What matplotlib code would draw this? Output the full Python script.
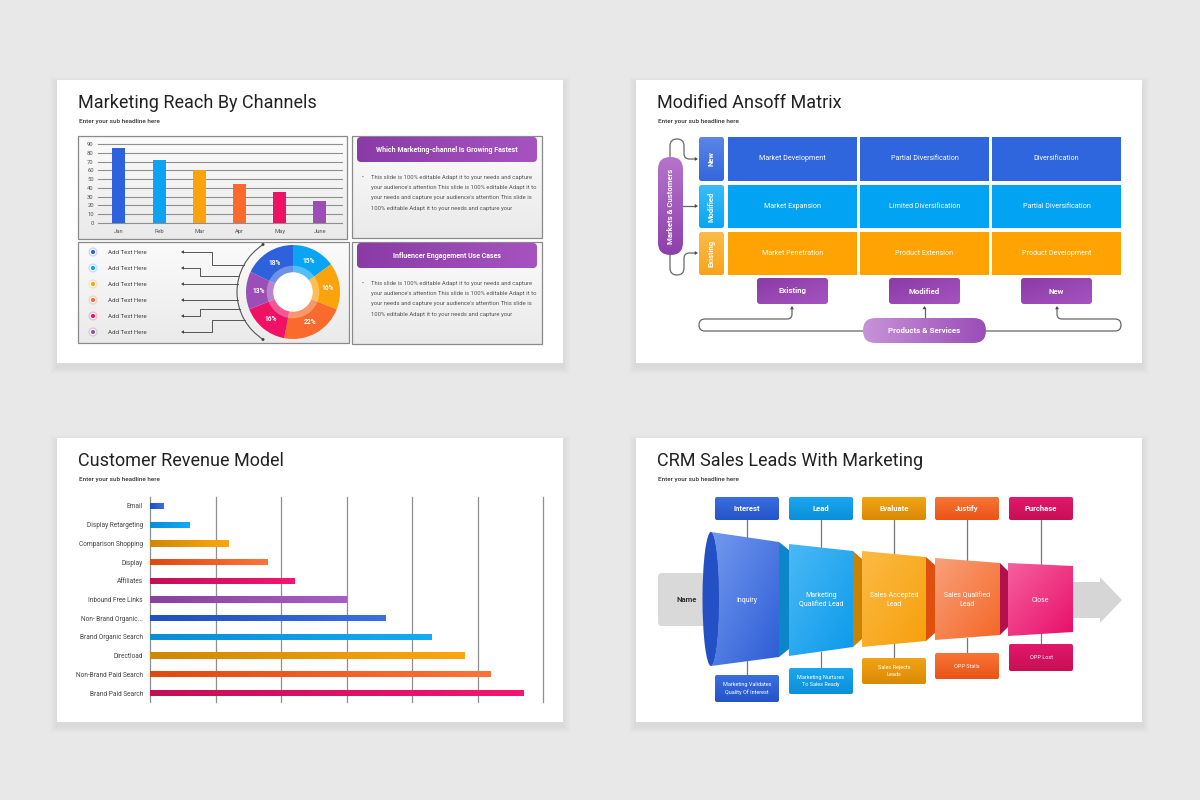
import numpy as np
import matplotlib
matplotlib.use('Agg')
import matplotlib.pyplot as plt
from matplotlib.patches import FancyBboxPatch, Polygon, Ellipse, Rectangle, Circle, Arc, PathPatch
from matplotlib.path import Path
from matplotlib.colors import to_rgb

plt.rcParams['font.family'] = ['Roboto', 'DejaVu Sans']

W, H = 1200, 800

# slide 1: marketing reach
months = ['Jan', 'Feb', 'Mar', 'Apr', 'May', 'June']
reach = [85, 72, 60, 44, 35, 25]
reach_colors = ['#2d62dc', '#0ca4f2', '#fba30d', '#f96a2c', '#ee1164', '#9b4fb6']
share = [15, 16, 22, 16, 13, 18]
share_colors = ['#0aa4f4', '#fba30d', '#f96a2c', '#ee1164', '#9b4fb6', '#2d62dc']
legend_labels = ['Add Text Here'] * 6
legend_colors = ['#2d62dc', '#0ca4f2', '#fba30d', '#f96a2c', '#ee1164', '#9b4fb6']
panel_heads = ['Which Marketing-channel Is Growing Fastest', 'Influencer Engagement Use Cases']
body = ["This slide is 100% editable Adapt it to your needs and capture",
        "your audience's attention This slide is 100% editable Adapt it to",
        "your needs and capture your audience's attention This slide is",
        "100% editable Adapt it to your needs and capture your"]

# slide 2: ansoff matrix
ansoff_rows = ['New', 'Modified', 'Existing']
ansoff_cols = ['Existing', 'Modified', 'New']
ansoff_cells = [['Market Development', 'Partial Diversification', 'Diversification'],
                ['Market Expansion', 'Limited Diversification', 'Partial Diversification'],
                ['Market Penetration', 'Product Extension', 'Product Development']]

# slide 3: revenue model
channels = ['Email', 'Display Retargeting', 'Comparison Shopping', 'Display', 'Affiliates',
            'Inbound Free Links', 'Non- Brand Organic...', 'Brand Organic Search', 'Directload',
            'Non-Brand Paid Search', 'Brand Paid Search']
revenue = [2, 6, 12, 18, 22, 30, 36, 43, 48, 52, 57]
rev_colors = [('#1f4fc0', '#3a6fe2'), ('#0a8ed6', '#14aaf6'), ('#cf8805', '#fca60f'),
              ('#df4a0e', '#fb7437'), ('#c20f58', '#f6156f'), ('#87429f', '#a660c3')]

# slide 4: crm funnel
stages = ['Interest', 'Lead', 'Evaluate', 'Justify', 'Purchase']
stage_steps = ['Inquiry', 'Marketing\nQualified Lead', 'Sales Accepted\nLead', 'Sales Qualified\nLead', 'Close']
stage_notes = ['Marketing Validates\nQuality Of Interest', 'Marketing Nurtures\nTo Sales Ready',
               'Sales Rejects\nLeads', 'OPP Stalls', 'OPP Lost']


def grad_img(c1, c2, mode='h', n=80):
    a = np.array(to_rgb(c1))
    b = np.array(to_rgb(c2))
    t = np.linspace(0, 1, n)
    if mode == 'h':
        tt = np.tile(t, (n, 1))
    elif mode == 'v':
        tt = np.tile(t[:, None], (1, n))
    else:
        tt = np.add.outer(t, t) / 2
    return a + (b - a) * tt[..., None]


def grad_box(x0, y0, x1, y1, c1, c2, mode='h', r=2, z=2):
    p = FancyBboxPatch((x0, y0), x1 - x0, y1 - y0, boxstyle=f'round,pad=0,rounding_size={r}',
                       fc='none', ec='none', zorder=z)
    ax.add_patch(p)
    im = ax.imshow(grad_img(c1, c2, mode), extent=(x0, x1, y1, y0), aspect='auto',
                   zorder=z, interpolation='bilinear')
    im.set_clip_path(p)
    return p


def grad_poly(pts, c1, c2, mode='d', z=2):
    p = Polygon(pts, closed=True, fc='none', ec='none', zorder=z)
    ax.add_patch(p)
    xs, ys = zip(*pts)
    im = ax.imshow(grad_img(c1, c2, mode), extent=(min(xs), max(xs), max(ys), min(ys)),
                   aspect='auto', zorder=z, interpolation='bilinear')
    im.set_clip_path(p)


def rounded_line(pts, r=6, c='#666666', lw=0.9):
    pts = np.array(pts, float)
    verts = [pts[0]]
    codes = [Path.MOVETO]
    for i in range(1, len(pts) - 1):
        p0, p1, p2 = pts[i - 1], pts[i], pts[i + 1]
        l1 = np.linalg.norm(p0 - p1)
        l2 = np.linalg.norm(p2 - p1)
        rr = min(r, l1 / 2, l2 / 2)
        verts += [p1 + (p0 - p1) / l1 * rr, p1, p1 + (p2 - p1) / l2 * rr]
        codes += [Path.LINETO, Path.CURVE3, Path.CURVE3]
    verts.append(pts[-1])
    codes.append(Path.LINETO)
    ax.add_patch(PathPatch(Path(verts, codes), fc='none', ec=c, lw=lw, zorder=5))


def head(x, y, d, s=3.2, c='#444444'):
    if d == 'l':
        pts = [(x, y), (x + s, y - s * 0.6), (x + s, y + s * 0.6)]
    elif d == 'r':
        pts = [(x, y), (x - s, y - s * 0.6), (x - s, y + s * 0.6)]
    else:
        pts = [(x, y), (x - s * 0.6, y + s), (x + s * 0.6, y + s)]
    ax.add_patch(Polygon(pts, closed=True, fc=c, ec='none', zorder=6))


def fig_box(x0, y0, x1, y1):
    return [x0 / W, 1 - y1 / H, (x1 - x0) / W, (y1 - y0) / H]


fig = plt.figure(figsize=(12, 8), dpi=100)
fig.patch.set_facecolor('#e9e8e9')
ax = fig.add_axes([0, 0, 1, 1])
ax.set_xlim(0, W)
ax.set_ylim(H, 0)
ax.set_autoscale_on(False)
ax.axis('off')

# slides with soft shadow
slides = [(57, 80, 563, 363), (636, 80, 1142, 363), (57, 438, 563, 722), (636, 438, 1142, 722)]
titles = ['Marketing Reach By Channels', 'Modified Ansoff Matrix', 'Customer Revenue Model',
          'CRM Sales Leads With Marketing']
for (x0, y0, x1, y1), t in zip(slides, titles):
    for i in range(1, 8):
        ax.add_patch(Rectangle((x0 - i, y0 - i + 4), x1 - x0 + 2 * i, y1 - y0 + 2 * i,
                               fc='black', alpha=0.007, ec='none', zorder=0))
    ax.add_patch(Rectangle((x0, y0), x1 - x0, y1 - y0, fc='white', ec='none', zorder=1))
    ax.text(x0 + 21, y0 + 22.5, t, fontsize=13, color='#222222', va='center', zorder=10)
    ax.text(x0 + 22, y0 + 41, 'Enter your sub headline here', fontsize=4.6, color='#333333',
            va='center', fontweight=500, zorder=10)


def panel(x0, y0, x1, y1):
    grad_box(x0, y0, x1, y1, '#fbfbfb', '#eaeaea', 'v', r=0.1, z=2)
    ax.add_patch(Rectangle((x0, y0), x1 - x0, y1 - y0, fc='none', ec='#8a8a8a', lw=0.9, zorder=3))


# ---- slide 1 ----
panel(78, 136, 347, 239)
panel(78, 242, 349, 343)
for py, htxt in zip([136, 242], panel_heads):
    panel(352, py, 542, py + 102)
    grad_box(357, py + 1, 537, py + 26, '#8a3ba6', '#a653c0', 'h', r=4, z=4)
    ax.text(447, py + 13.5, htxt, color='white', fontsize=5, fontweight='bold',
            ha='center', va='center', zorder=10)
    ax.text(362, py + 41, '\u2022', fontsize=4, color='#555555', va='center', zorder=10)
    for k, line in enumerate(body):
        ax.text(371, py + 41 + k * 10.5, line, fontsize=4.2, color='#555555', va='center', zorder=10)

axb = fig.add_axes(fig_box(98, 144, 342, 223))
axb.patch.set_alpha(0)
axb.bar(range(len(months)), reach, width=0.32, color=reach_colors, zorder=3)
axb.set_xlim(-0.52, 5.55)
axb.set_ylim(0, 90)
axb.set_yticks(range(0, 91, 10))
axb.set_xticks(range(len(months)), months)
axb.yaxis.grid(True, color='#8f8f8f', lw=0.8)
for gl in axb.get_ygridlines():
    gl.set_clip_on(False)
axb.tick_params(length=0, labelsize=4.2, labelcolor='#555555')
axb.tick_params(axis='y', pad=3)
axb.tick_params(axis='x', pad=4)
for s in axb.spines.values():
    s.set_visible(False)

# legend rows with arrows into the donut
rows_y = [252, 268, 284, 300, 316, 332]
cx, cy, ra = 293, 292, 56


def arc_x(y):
    return cx - np.sqrt(ra ** 2 - (y - cy) ** 2)


bends = [(212, 265), (200, 276), (None, 284), (None, 300), (200, 309), (212, 320)]
for y, lab, c, (bx, by) in zip(rows_y, legend_labels, legend_colors, bends):
    ax.add_patch(Circle((93, y), 4.6, fc=c, alpha=0.22, ec='none', zorder=4))
    ax.add_patch(Circle((93, y), 3.2, fc='white', ec='none', zorder=4))
    ax.add_patch(Circle((93, y), 2.1, fc=c, ec='none', zorder=4))
    ax.text(108, y, lab, fontsize=4.4, color='#444444', va='center', zorder=10)
    if bx is None:
        xs, ys = [183, arc_x(y)], [y, y]
    else:
        xs, ys = [183, bx, bx, arc_x(by)], [y, y, by, by]
    ax.plot(xs, ys, color='#555555', lw=0.7, zorder=5)
    head(181, y, 'l', s=3)
ax.add_patch(Arc((cx, cy), 2 * ra, 2 * ra, theta1=122, theta2=238, color='#555555', lw=0.8, zorder=5))
for dy in (-47.5, 47.5):
    ax.add_patch(Circle((cx - 30, cy + dy), 1.5, fc='#444444', ec='none', zorder=6))

axp = fig.add_axes(fig_box(246, 245, 340, 339))
axp.pie(share, colors=share_colors, startangle=90, counterclock=False, radius=1,
        autopct=lambda p: f'{p:.0f}%', pctdistance=0.74,
        textprops=dict(color='white', fontsize=4.8, fontweight='bold'),
        wedgeprops=dict(lw=0))
axp.add_patch(Circle((0, 0), 0.56, fc='white', alpha=0.3, ec='none'))
axp.add_patch(Circle((0, 0), 0.42, fc='white', ec='none'))
axp.set_xlim(-1, 1)
axp.set_ylim(-1, 1)
axp.axis('off')

# ---- slide 2 ----
row_y = [(137, 181), (185, 228), (232, 275)]
col_x = [(728, 857), (860, 989), (992, 1121)]
cell_colors = ['#2f66de', '#02a3f3', '#ffa303']
label_colors = [('#5b86e6', '#3366dd'), ('#3bbcf7', '#0aa6f2'), ('#fbbb4a', '#f8a41a')]
for (y0, y1), rname, cc, lc, cells in zip(row_y, ansoff_rows, cell_colors, label_colors, ansoff_cells):
    grad_box(699, y0, 724, y1, lc[0], lc[1], 'v', r=2.5, z=3)
    ax.text(711.5, (y0 + y1) / 2, rname, rotation=90, color='white', fontsize=5.4,
            fontweight='bold', ha='center', va='center', zorder=10)
    for (x0, x1), txt in zip(col_x, cells):
        ax.add_patch(Rectangle((x0, y0), x1 - x0, y1 - y0, fc=cc, ec='none', zorder=3))
        ax.text((x0 + x1) / 2, (y0 + y1) / 2, txt, color='white', fontsize=5.1,
                ha='center', va='center', zorder=10)

for (x0, x1), cname in zip(col_x, ansoff_cols):
    xm = (x0 + x1) / 2
    grad_box(xm - 35.5, 278, xm + 35.5, 304, '#8a3ba6', '#a653c0', 'd', r=3, z=3)
    ax.text(xm, 291, cname, color='white', fontsize=5.6, fontweight='bold',
            ha='center', va='center', zorder=10)

grad_box(863, 318, 986, 343, '#c793d8', '#9a4db8', 'h', r=12.5, z=6)
ax.text(924.5, 330.5, 'Products & Services', color='white', fontsize=5.8, fontweight='bold',
        ha='center', va='center', zorder=10)
grad_box(658, 157, 683, 255, '#b574cc', '#8e3fab', 'v', r=12.5, z=6)
ax.text(670.5, 206, 'Markets & Customers', rotation=90, color='white', fontsize=5.6,
        fontweight='bold', ha='center', va='center', zorder=10)

rounded_line([(670, 157), (670, 139), (684, 139), (684, 159), (695, 159)], r=7)
head(698, 159, 'r')
ax.plot([683, 695], [206, 206], color='#666666', lw=0.9, zorder=5)
head(698, 206, 'r')
rounded_line([(670, 255), (670, 275), (684, 275), (684, 253), (695, 253)], r=7)
head(698, 253, 'r')
rounded_line([(864, 331), (699, 331), (699, 319), (792, 319), (792, 309)], r=6)
head(792, 306, 'u')
ax.plot([924.5, 924.5], [318, 309], color='#666666', lw=0.9, zorder=5)
head(924.5, 306, 'u')
rounded_line([(986, 331), (1121, 331), (1121, 319), (1057, 319), (1057, 309)], r=6)
head(1057, 306, 'u')

# ---- slide 3 ----
axh = fig.add_axes(fig_box(150, 497, 543, 702))
axh.patch.set_alpha(0)
pos = np.arange(len(channels))
bars = axh.barh(pos, revenue, height=0.34, color='none', zorder=3)
for i, (b, v) in enumerate(zip(bars, revenue)):
    c1, c2 = rev_colors[i % len(rev_colors)]
    im = axh.imshow(grad_img(c1, c2, 'h'), extent=(0, v, i + 0.17, i - 0.17),
                    aspect='auto', zorder=3, interpolation='bilinear')
    im.set_clip_path(b)
axh.set_xlim(0, 60)
axh.set_ylim(len(channels) - 0.52, -0.48)
axh.set_xticks(range(0, 61, 10))
axh.set_xticklabels([])
axh.set_yticks(pos, channels)
axh.xaxis.grid(True, color='#8f8f8f', lw=0.9)
for gl in axh.get_xgridlines():
    gl.set_clip_on(False)
axh.tick_params(length=0, labelsize=4.7, labelcolor='#444444', pad=5)
for s in axh.spines.values():
    s.set_visible(False)

# ---- slide 4 ----
top_x = [(715, 779), (789, 853), (862, 926), (935, 999), (1009, 1073)]
box_cols = [('#3a6ee0', '#2454c8'), ('#1aa7f0', '#0b8fd8'), ('#f2a416', '#d98a05'),
            ('#f87435', '#e95416'), ('#e3186b', '#c70f55')]
face_cols = [('#7399ef', '#2c5dd5'), ('#4ab9f6', '#0c9aea'), ('#fcba45', '#f6a00c'),
             ('#f9a07a', '#f46726'), ('#f6609f', '#e80f69')]
side_cols = ['#0b86c9', '#c98300', '#df500e', '#b3104e']
seg = [(714, 779, 532, 542, 666, 657), (789, 853, 544, 551, 656, 647), (862, 926, 551, 557, 647, 641),
       (935, 1000, 558, 563, 640, 635), (1008, 1073, 563, 566, 636, 632)]
note_y = [(675, 702), (668, 694), (658, 684), (653, 679), (644, 671)]

# gray name block and arrow
name_blk = FancyBboxPatch((658, 573), 50, 53, boxstyle='round,pad=0,rounding_size=4',
                          fc='#d9d9d9', ec='none', zorder=2)
ax.add_patch(name_blk)
ax.add_patch(Polygon([(700, 573), (719, 578), (719, 621), (700, 626)], closed=True,
                     fc='#d9d9d9', ec='none', zorder=2))
ax.text(687, 599.5, 'Name', fontsize=5.6, fontweight='bold', color='#333333',
        ha='center', va='center', zorder=10)
arrow_pts = [(1070, 582), (1100, 582), (1100, 577), (1122, 600), (1100, 623), (1100, 618), (1070, 618)]
ax.add_patch(Polygon(arrow_pts, closed=True, fc='#d6d6d6', ec='none', zorder=2))

ax.add_patch(Ellipse((711, 599), 17, 134, fc='#2350c4', ec='none', zorder=3))
for i, (xl, xr, tl, tr, bl, br) in enumerate(seg):
    if i == 0:
        th = np.linspace(np.pi / 2, -np.pi / 2, 30)
        left = [(711 + 8 * np.cos(t), 599 - 67 * np.sin(t)) for t in th]
        pts = left + [(xr, br), (xr, tr)]
    else:
        pxr, ptr, pbr = seg[i - 1][1], seg[i - 1][3], seg[i - 1][5]
        ax.add_patch(Polygon([(pxr, ptr), (xl, ptr + 8), (xl, pbr - 8), (pxr, pbr)], closed=True,
                             fc=side_cols[i - 1], ec='none', zorder=3))
        pts = [(xl, tl), (xr, tr), (xr, br), (xl, bl)]
    grad_poly(pts, face_cols[i][0], face_cols[i][1], 'd', z=4)
    xm = (xl + xr) / 2
    ax.text(xm, 600, stage_steps[i], color='white', fontsize=5, ha='center', va='center',
            linespacing=1.5, zorder=10)
    bx0, bx1 = top_x[i]
    bm = (bx0 + bx1) / 2
    grad_box(bx0, 497, bx1, 520, box_cols[i][0], box_cols[i][1], 'v', r=2, z=4)
    ax.text(bm, 508.5, stages[i], color='white', fontsize=5.5, fontweight='bold',
            ha='center', va='center', zorder=10)
    ax.plot([bm, bm], [520, tl + (tr - tl) * (bm - xl) / (xr - xl)], color='#777777', lw=0.9, zorder=3)
    ny0, ny1 = note_y[i]
    grad_box(bx0, ny0, bx1, ny1, box_cols[i][0], box_cols[i][1], 'v', r=2, z=4)
    ax.text(bm, (ny0 + ny1) / 2, stage_notes[i], color='white', fontsize=4, ha='center',
            va='center', linespacing=1.3, zorder=10)
    ax.plot([bm, bm], [bl + (br - bl) * (bm - xl) / (xr - xl), ny0], color='#777777', lw=0.9, zorder=3)

fig.savefig('out.png', dpi=100, facecolor=fig.get_facecolor())
